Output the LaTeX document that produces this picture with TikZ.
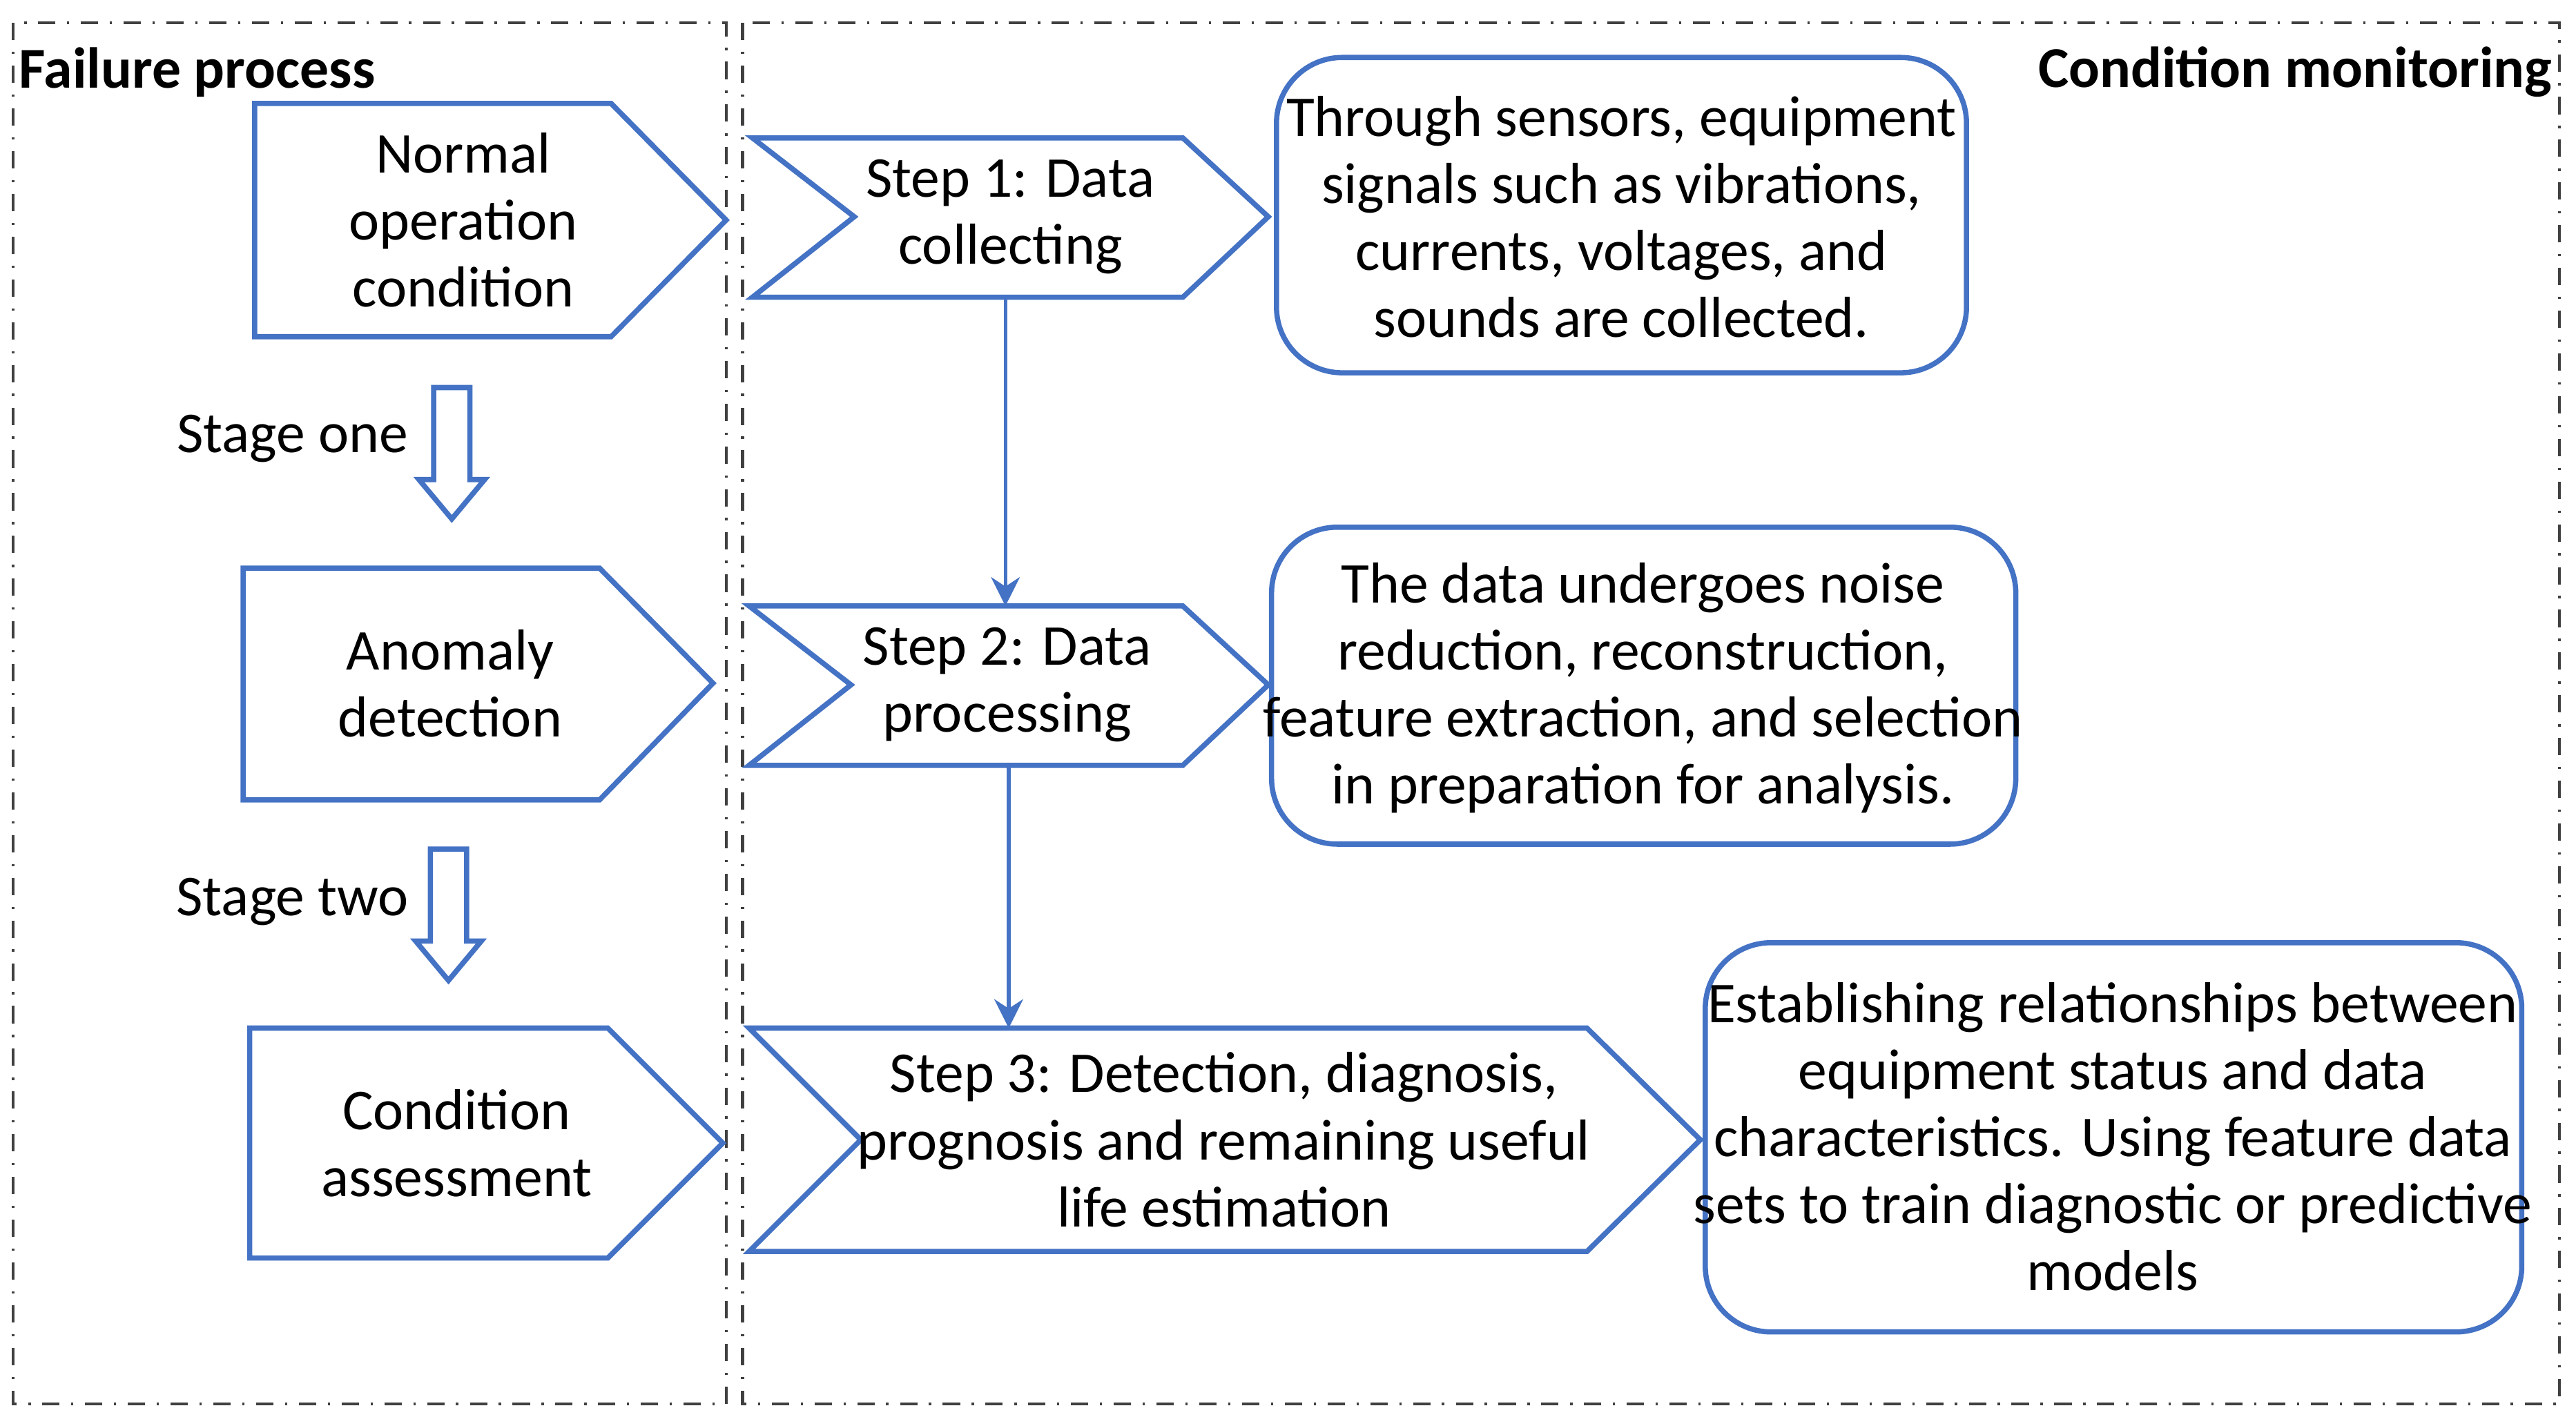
\documentclass[tikz,border=0pt]{standalone}
\usepackage{fontspec}
\setmainfont{Carlito}
\usetikzlibrary{arrows.meta}
\definecolor{cblue}{HTML}{4472C4}
\begin{document}
\begin{tikzpicture}[x=0.01cm,y=-0.01cm,
    frame/.style={draw=black!75, dash dot, line width=0.5pt},
    outl/.style={draw=cblue, line width=0.9pt},
    txt/.style={align=center, font=\fontsize{10}{11.6}\selectfont, inner sep=0pt},
    note/.style={outl, rounded corners=0.4cm},
    link/.style={draw=cblue, line width=0.6pt, -{Stealth[length=5pt,width=5pt]}},
]
\useasboundingbox (0,0) rectangle (1568,868);
% frames
\draw[frame] (8,14) rectangle (442,855);
\draw[frame] (452,14) rectangle (1558,855);
\node[txt, font=\fontsize{10}{12}\selectfont\bfseries] (fp) at (120,44) {Failure process};
\node[txt, font=\fontsize{10}{12}\selectfont\bfseries] (cm) at (1397,44) {Condition monitoring};
% failure stages (pentagons)
\draw[outl] (155,63) -- (372,63) -- (442,134) -- (372,205) -- (155,205) -- cycle;
\node[txt] (normal) at (282,134) {Normal\\operation\\condition};
\draw[outl] (148,346) -- (365,346) -- (434,416) -- (365,487) -- (148,487) -- cycle;
\node[txt] (anomaly) at (274,416) {Anomaly\\detection};
\draw[outl] (152,626) -- (370,626) -- (440,696) -- (370,766) -- (152,766) -- cycle;
\node[txt] (assess) at (278,696) {Condition\\assessment};
% open block arrows
\draw[outl] (264,236) -- (286,236) -- (286,292) -- (295,292) -- (275,316) -- (255,292) -- (264,292) -- cycle;
\node[txt] (st1) at (178,267) {Stage one};
\draw[outl] (262,517) -- (284,517) -- (284,573) -- (293,573) -- (273,597) -- (253,573) -- (262,573) -- cycle;
\node[txt] (st2) at (178,549) {Stage two};
% steps (chevrons)
\draw[outl] (458,84) -- (720,84) -- (772,132) -- (720,181) -- (458,181) -- (520,132) -- cycle;
\node[txt] (s1) at (615,132) {Step 1: Data\\collecting};
\draw[outl] (456,369) -- (720,369) -- (772,417) -- (720,466) -- (456,466) -- (518,417) -- cycle;
\node[txt] (s2) at (613,417) {Step 2: Data\\processing};
\draw[outl] (456,626) -- (966,626) -- (1035,694) -- (966,762) -- (456,762) -- (524,694) -- cycle;
\node[txt] (s3) at (745,694) {Step 3: Detection, diagnosis,\\prognosis and remaining useful\\life estimation};
\coordinate (s1b) at (612,181);
\coordinate (s2t) at (612,369);
\coordinate (s2b) at (614,466);
\coordinate (s3t) at (614,626);
\draw[link] (s1b) -- (s2t);
\draw[link] (s2b) -- (s3t);
% notes
\draw[note] (777,35) rectangle (1197,227);
\node[txt] (n1) at (987,132) {Through sensors, equipment\\signals such as vibrations,\\currents, voltages, and\\sounds are collected.};
\draw[note] (774,321) rectangle (1227,514);
\node[txt] (n2) at (1000,419) {The data undergoes noise\\reduction, reconstruction,\\feature extraction, and selection\\in preparation for analysis.};
\draw[note] (1038,574) rectangle (1535,811);
\node[txt] (n3) at (1286,692) {Establishing relationships between\\equipment status and data\\characteristics. Using feature data\\sets to train diagnostic or predictive\\models};
\end{tikzpicture}
\end{document}
